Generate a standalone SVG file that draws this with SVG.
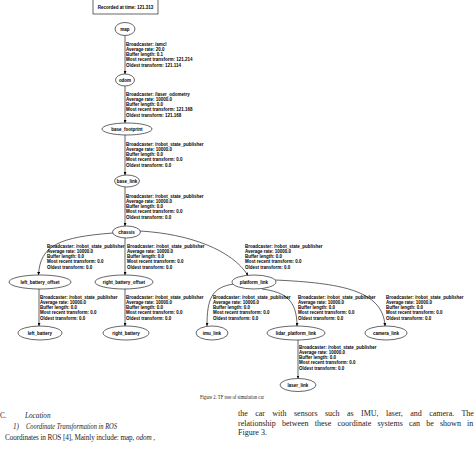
<svg xmlns="http://www.w3.org/2000/svg" width="474" height="451" viewBox="0 0 474 451">
<defs>
<style>
.bg{fill:#ffffff}
.node ellipse{fill:#ffffff;stroke:#000;stroke-width:0.6}
.node text{font-family:"Liberation Sans",Arial,sans-serif;font-size:4.5px;font-weight:bold;text-anchor:middle;fill:#000}
.lbl{font-family:"Liberation Sans",Arial,sans-serif;font-size:4.5px;font-weight:bold;fill:#000}
.edge{fill:none;stroke:#000;stroke-width:0.6;marker-end:url(#arr)}
.cap{font-family:"Liberation Serif","Times New Roman",serif;font-size:5.2px;fill:#222}
.body{font-family:"Liberation Serif","Times New Roman",serif;font-size:7.2px;fill:#222}
.rbody{font-family:"Liberation Serif","Times New Roman",serif;font-size:8px;fill:#222}
.it{font-style:italic}
</style>
<marker id="arr" viewBox="0 0 6 6" markerUnits="userSpaceOnUse" markerWidth="3" markerHeight="3" refX="6" refY="3" orient="auto">
<path d="M0,0 L6,3 L0,6 z" fill="#000"/>
</marker>
</defs>
<rect class="bg" x="0" y="0" width="474" height="451"/>

<g id="recorded">
<rect x="93" y="-1" width="65" height="15" fill="#fff" stroke="#000" stroke-width="0.6"/>
<text class="lbl" x="125.5" y="8.5" text-anchor="middle">Recorded at time: 121.313</text>
</g>

<g id="connectors">
<path class="edge" d="M125,35.5 L125,74"/>
<path class="edge" d="M125,86 L125,123"/>
<path class="edge" d="M125,135 L125,175"/>
<path class="edge" d="M125,187 L125,226"/>
<path class="edge" d="M113,233 C60,237 40,245 38.5,275"/>
<path class="edge" d="M125,238 L125,275"/>
<path class="edge" d="M140,231 C190,234 232,250 248,275.5"/>
<path class="edge" d="M39,289 L39,326"/>
<path class="edge" d="M125,289 L125,326"/>
<path class="edge" d="M234,284 C211,287 207,300 207,326"/>
<path class="edge" d="M262,289 C285,292 297,300 297,326"/>
<path class="edge" d="M275,280 C340,283 383,290 385,326"/>
<path class="edge" d="M298,340 L298,378.5"/>

<text class="lbl" x="126" y="45.5"><tspan x="126">Broadcaster: /amcl</tspan><tspan x="126" dy="5.25">Average rate: 20.0</tspan><tspan x="126" dy="5.25">Buffer length: 0.1</tspan><tspan x="126" dy="5.25">Most recent transform: 121.214</tspan><tspan x="126" dy="5.25">Oldest transform: 121.114</tspan></text>
<text class="lbl" x="126" y="95.5"><tspan x="126">Broadcaster: /laser_odometry</tspan><tspan x="126" dy="5.25">Average rate: 10000.0</tspan><tspan x="126" dy="5.25">Buffer length: 0.0</tspan><tspan x="126" dy="5.25">Most recent transform: 121.168</tspan><tspan x="126" dy="5.25">Oldest transform: 121.168</tspan></text>
<text class="lbl" x="126" y="145.5"><tspan x="126">Broadcaster: /robot_state_publisher</tspan><tspan x="126" dy="5.25">Average rate: 10000.0</tspan><tspan x="126" dy="5.25">Buffer length: 0.0</tspan><tspan x="126" dy="5.25">Most recent transform: 0.0</tspan><tspan x="126" dy="5.25">Oldest transform: 0.0</tspan></text>
<text class="lbl" x="126" y="197.5"><tspan x="126">Broadcaster: /robot_state_publisher</tspan><tspan x="126" dy="5.25">Average rate: 10000.0</tspan><tspan x="126" dy="5.25">Buffer length: 0.0</tspan><tspan x="126" dy="5.25">Most recent transform: 0.0</tspan><tspan x="126" dy="5.25">Oldest transform: 0.0</tspan></text>
<text class="lbl" x="47" y="247.5"><tspan x="47">Broadcaster: /robot_state_publisher</tspan><tspan x="47" dy="5.25">Average rate: 10000.0</tspan><tspan x="47" dy="5.25">Buffer length: 0.0</tspan><tspan x="47" dy="5.25">Most recent transform: 0.0</tspan><tspan x="47" dy="5.25">Oldest transform: 0.0</tspan></text>
<text class="lbl" x="127" y="247.5"><tspan x="127">Broadcaster: /robot_state_publisher</tspan><tspan x="127" dy="5.25">Average rate: 10000.0</tspan><tspan x="127" dy="5.25">Buffer length: 0.0</tspan><tspan x="127" dy="5.25">Most recent transform: 0.0</tspan><tspan x="127" dy="5.25">Oldest transform: 0.0</tspan></text>
<text class="lbl" x="245" y="247.5"><tspan x="245">Broadcaster: /robot_state_publisher</tspan><tspan x="245" dy="5.25">Average rate: 10000.0</tspan><tspan x="245" dy="5.25">Buffer length: 0.0</tspan><tspan x="245" dy="5.25">Most recent transform: 0.0</tspan><tspan x="245" dy="5.25">Oldest transform: 0.0</tspan></text>
<text class="lbl" x="40" y="298.5"><tspan x="40">Broadcaster: /robot_state_publisher</tspan><tspan x="40" dy="5.25">Average rate: 10000.0</tspan><tspan x="40" dy="5.25">Buffer length: 0.0</tspan><tspan x="40" dy="5.25">Most recent transform: 0.0</tspan><tspan x="40" dy="5.25">Oldest transform: 0.0</tspan></text>
<text class="lbl" x="126" y="298.5"><tspan x="126">Broadcaster: /robot_state_publisher</tspan><tspan x="126" dy="5.25">Average rate: 10000.0</tspan><tspan x="126" dy="5.25">Buffer length: 0.0</tspan><tspan x="126" dy="5.25">Most recent transform: 0.0</tspan><tspan x="126" dy="5.25">Oldest transform: 0.0</tspan></text>
<text class="lbl" x="213" y="298.5"><tspan x="213">Broadcaster: /robot_state_publisher</tspan><tspan x="213" dy="5.25">Average rate: 10000.0</tspan><tspan x="213" dy="5.25">Buffer length: 0.0</tspan><tspan x="213" dy="5.25">Most recent transform: 0.0</tspan><tspan x="213" dy="5.25">Oldest transform: 0.0</tspan></text>
<text class="lbl" x="298" y="298.5"><tspan x="298">Broadcaster: /robot_state_publisher</tspan><tspan x="298" dy="5.25">Average rate: 10000.0</tspan><tspan x="298" dy="5.25">Buffer length: 0.0</tspan><tspan x="298" dy="5.25">Most recent transform: 0.0</tspan><tspan x="298" dy="5.25">Oldest transform: 0.0</tspan></text>
<text class="lbl" x="386" y="298.5"><tspan x="386">Broadcaster: /robot_state_publisher</tspan><tspan x="386" dy="5.25">Average rate: 10000.0</tspan><tspan x="386" dy="5.25">Buffer length: 0.0</tspan><tspan x="386" dy="5.25">Most recent transform: 0.0</tspan><tspan x="386" dy="5.25">Oldest transform: 0.0</tspan></text>
<text class="lbl" x="299" y="348.5"><tspan x="299">Broadcaster: /robot_state_publisher</tspan><tspan x="299" dy="5.25">Average rate: 10000.0</tspan><tspan x="299" dy="5.25">Buffer length: 0.0</tspan><tspan x="299" dy="5.25">Most recent transform: 0.0</tspan><tspan x="299" dy="5.25">Oldest transform: 0.0</tspan></text>
</g>

<g id="map" class="node"><ellipse cx="125" cy="29" rx="10" ry="6.5"/><text x="125" y="30.6">map</text></g>
<g id="odom" class="node"><ellipse cx="125" cy="80" rx="9.5" ry="6"/><text x="125" y="81.6">odom</text></g>
<g id="base_footprint" class="node"><ellipse cx="127" cy="129" rx="25" ry="6"/><text x="127" y="130.6">base_footprint</text></g>
<g id="base_link" class="node"><ellipse cx="127" cy="181" rx="12.5" ry="6"/><text x="127" y="182.6">base_link</text></g>
<g id="chassis" class="node"><ellipse cx="126.5" cy="232" rx="14" ry="6"/><text x="126.5" y="233.6">chassis</text></g>
<g id="left_battery_offset" class="node"><ellipse cx="40" cy="282" rx="31" ry="7"/><text x="40" y="283.6">left_battery_offset</text></g>
<g id="right_battery_offset" class="node"><ellipse cx="124" cy="282" rx="29" ry="7"/><text x="124" y="283.6">right_battery_offset</text></g>
<g id="platform_link" class="node"><ellipse cx="254" cy="282" rx="22" ry="7"/><text x="254" y="283.6">platform_link</text></g>
<g id="left_battery" class="node"><ellipse cx="40" cy="333" rx="22" ry="7"/><text x="40" y="334.6">left_battery</text></g>
<g id="right_battery" class="node"><ellipse cx="126" cy="333" rx="23" ry="7"/><text x="126" y="334.6">right_battery</text></g>
<g id="imu_link" class="node"><ellipse cx="212" cy="333" rx="16" ry="7"/><text x="212" y="334.6">imu_link</text></g>
<g id="lidar_platform_link" class="node"><ellipse cx="296" cy="333" rx="29" ry="7"/><text x="296" y="334.6">lidar_platform_link</text></g>
<g id="camera_link" class="node"><ellipse cx="386" cy="333" rx="21" ry="7"/><text x="386" y="334.6">camera_link</text></g>
<g id="laser_link" class="node"><ellipse cx="298" cy="385" rx="18" ry="6.5"/><text x="298" y="386.6">laser_link</text></g>

<g id="caption">
<text class="cap" x="200" y="398.5" textLength="64" lengthAdjust="spacingAndGlyphs">Figure 2. TF tree of simulation car</text>
</g>
<g id="bodytext">
<text class="body" x="0" y="417.5">C.</text>
<text class="body it" x="25" y="417.5">Location</text>
<text class="body it" x="13" y="428.5">1)</text>
<text class="body it" x="26" y="428.5" textLength="91" lengthAdjust="spacingAndGlyphs">Coordinate Transformation in ROS</text>
<text class="body" x="5" y="439.5" textLength="150" lengthAdjust="spacing">Coordinates in ROS [4], Mainly include: map, <tspan class="it">odom</tspan> ,</text>
<text class="rbody" x="238" y="416" word-spacing="5.4">the car with sensors such as IMU, laser, and camera. The</text>
<text class="rbody" x="238" y="425.5" word-spacing="4.2">relationship between these coordinate systems can be shown in</text>
<text class="rbody" x="238" y="435">Figure 3.</text>
</g>
</svg>
